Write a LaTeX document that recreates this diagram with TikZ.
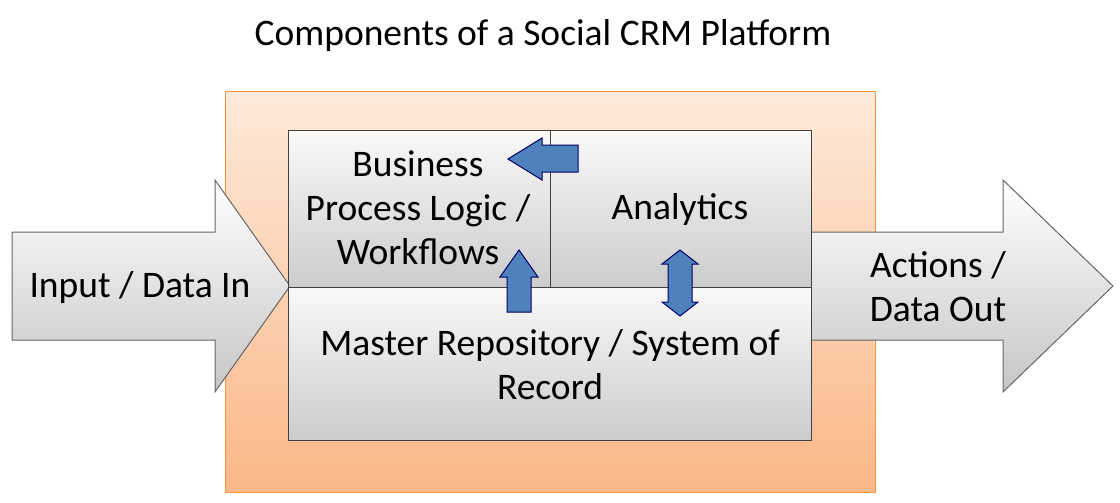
\documentclass[tikz,border=0pt]{standalone}
\usepackage{fontspec}
\setmainfont{Carlito}
\begin{document}
\begin{tikzpicture}[x=1pt,y=-1pt,
  bigarrow/.style={draw=gray!80!black,line width=1pt,top color=white,bottom color=gray!45},
  box/.style={draw=black!75,line width=1pt,top color=gray!5,bottom color=gray!40},
  blue/.style={draw=blue!40!black,line width=1pt,fill={rgb,255:red,79;green,129;blue,189}},
  txt/.style={font=\fontsize{37.5}{44}\selectfont,align=center}]
\useasboundingbox (0,0) rectangle (1120,503);
\node[txt] (title) at (543,36) {Components of a Social CRM Platform};
\path[draw={rgb,255:red,247;green,150;blue,70},line width=1pt,top color={rgb,255:red,253;green,234;blue,218},bottom color={rgb,255:red,250;green,183;blue,135}] (225,92) rectangle (875,492);
\path[bigarrow] (12,232) -- (215,232) -- (215,180) -- (290,286) -- (215,392) -- (215,340) -- (12,340) -- cycle;
\path[bigarrow] (800,232) -- (1003,232) -- (1003,180) -- (1113,286) -- (1003,392) -- (1003,340) -- (800,340) -- cycle;
\node[box,minimum width=262,minimum height=157,anchor=north west] (bpl) at (288,130) {};
\node[box,minimum width=261,minimum height=157,anchor=north west] (ana) at (550,130) {};
\node[box,minimum width=523,minimum height=153,anchor=north west] (mr) at (288,287) {};
\node[txt] at (418,208) {Business\\Process Logic /\\Workflows};
\node[txt] at (680,210) {Analytics};
\node[txt] at (550,365) {Master Repository / System of\\Record};
\node[txt] at (140,288) {Input / Data In};
\node[txt] at (938,287) {Actions /\\Data Out};
\path[blue] (578,145) -- (542,145) -- (542,138) -- (508,159) -- (542,180) -- (542,172) -- (578,172) -- cycle;
\path[blue] (507,312) -- (507,277) -- (500,277) -- (519,250) -- (538,277) -- (531,277) -- (531,312) -- cycle;
\path[blue] (668,264) -- (662,264) -- (680,250) -- (698,264) -- (692,264) -- (692,302) -- (698,302) -- (680,316) -- (662,302) -- (668,302) -- cycle;
\end{tikzpicture}
\end{document}
